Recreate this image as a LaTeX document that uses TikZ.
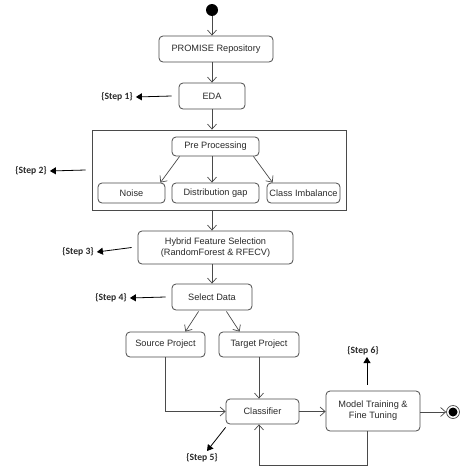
\documentclass[tikz,border=0pt]{standalone}
\usepackage{fontspec}
\setmainfont{Liberation Sans}
\newfontfamily\stepfont{Carlito}
\usetikzlibrary{arrows.meta,calc}
\definecolor{ln}{HTML}{4A4A4A}
\definecolor{tx}{HTML}{2A2A2A}
\tikzset{
  act/.style={draw=ln, line width=0.8pt, rounded corners=4pt, align=center, inner sep=0pt,
    font=\fontsize{9.2}{11}\selectfont, text=tx},
  flow/.style={draw=ln, line width=0.7pt, -{Straight Barb[length=5pt,width=9pt,line width=0.7pt]}},
  stepar/.style={draw=black, line width=0.8pt, -{Triangle[length=6pt,width=7pt]}},
  steplbl/.style={font=\stepfont\bfseries\fontsize{9.6}{11}\selectfont, text=tx, inner sep=0pt},
}
\begin{document}
\begin{tikzpicture}[x=1pt,y=-1pt]
\useasboundingbox (0,0) rectangle (474,474);
\fill[white] (0,0) rectangle (474,474);
% start / end
\node[circle, fill=black, minimum size=12pt, inner sep=0pt] (start) at (212,10) {};
\node[circle, draw=ln, line width=0.7pt, minimum size=13pt, inner sep=0pt] (end) at (453,412) {};
\fill[black] (end.center) circle (4.5pt);
% activities
\node[act, minimum width=114pt, minimum height=26pt] (promise) at (216,49) {PROMISE Repository};
\node[act, minimum width=66pt, minimum height=26pt] (eda) at (212,96) {EDA};
\node[draw=ln, line width=0.8pt, minimum width=254pt, minimum height=80pt, inner sep=0pt] (outer) at (219,170) {};
\node[act, minimum width=87pt, minimum height=19pt] (pre) at (215.5,146.5) {Pre Processing};
\node[act, minimum width=67pt, minimum height=20pt] (noise) at (131.5,193) {Noise};
\node[act, minimum width=87pt, minimum height=20pt] (dist) at (215.5,193) {Distribution gap};
\node[act, minimum width=73pt, minimum height=20pt] (cls) at (303.5,193) {Class Imbalance};
\node[act, minimum width=155pt, minimum height=33pt] (hybrid) at (215.5,247.5) {Hybrid Feature Selection\\(RandomForest \& RFECV)};
\node[act, minimum width=80pt, minimum height=26pt] (select) at (212,297) {Select Data};
\node[act, minimum width=79pt, minimum height=25pt] (source) at (165.5,344.5) {Source Project};
\node[act, minimum width=80pt, minimum height=25pt] (target) at (259,344.5) {Target Project};
\node[act, minimum width=73pt, minimum height=25pt] (classifier) at (262.5,411.5) {Classifier};
\node[act, minimum width=94pt, minimum height=40pt] (model) at (373,411) {Model Training \&\\Fine Tuning};
% step labels
\node[steplbl] (s1) at (117,97) {\{Step 1\}};
\node[steplbl] (s2) at (31,171) {\{Step 2\}};
\node[steplbl] (s3) at (78,252) {\{Step 3\}};
\node[steplbl] (s4) at (111,298) {\{Step 4\}};
\node[steplbl] (s5) at (202,458) {\{Step 5\}};
\node[steplbl] (s6) at (363,351) {\{Step 6\}};
% flows
\draw[flow] (start) -- (start |- promise.north);
\draw[flow] (eda.north |- promise.south) -- (eda.north);
\draw[flow] (eda.south) -- (eda.south |- outer.north);
\draw[flow] ($(pre.south west)+(8,0)$) -- ($(noise.north east)+(-5,0)$);
\draw[flow] (pre.south -| 212,0) -- (dist.north -| 212,0);
\draw[flow] ($(pre.south east)+(-6,0)$) -- ($(cls.north west)+(6,0)$);
\draw[flow] (outer.south -| 212,0) -- (hybrid.north -| 212,0);
\draw[flow] (hybrid.south -| 212,0) -- (select.north);
\draw[flow] ($(select.south west)+(27,1)$) -- ($(source.north east)+(-20,0)$);
\draw[flow] ($(select.south east)+(-26,1)$) -- ($(target.north west)+(21,0)$);
\draw[flow] (source.south) |- (classifier.west);
\draw[flow] (target.south) -- (target.south |- classifier.north);
\draw[flow] (classifier.east) -- (model.west |- classifier.east);
\draw[flow] (model.east |- end) -- (end.west);
\draw[flow] (model.south -| 367,0) -- (367,465) -- (259,465) -- (259,0 |- classifier.south);
% step arrows
\draw[stepar] ($(eda.west)+(-7,0)$) -- ($(s1.east)+(3,0)$);
\draw[stepar] ($(outer.west)+(-6,0)$) -- ($(s2.east)+(3,0)$);
\draw[stepar] ($(hybrid.west)+(-6,0)$) -- ($(s3.east)+(3,0)$);
\draw[stepar] ($(select.west)+(-6,0)$) -- ($(s4.east)+(3,0)$);
\draw[stepar] ($(classifier.south west)+(0,3)$) -- (207,451);
\draw[stepar] ($(model.north -| 367,0)+(0,-6)$) -- (367,357);
\end{tikzpicture}
\end{document}
